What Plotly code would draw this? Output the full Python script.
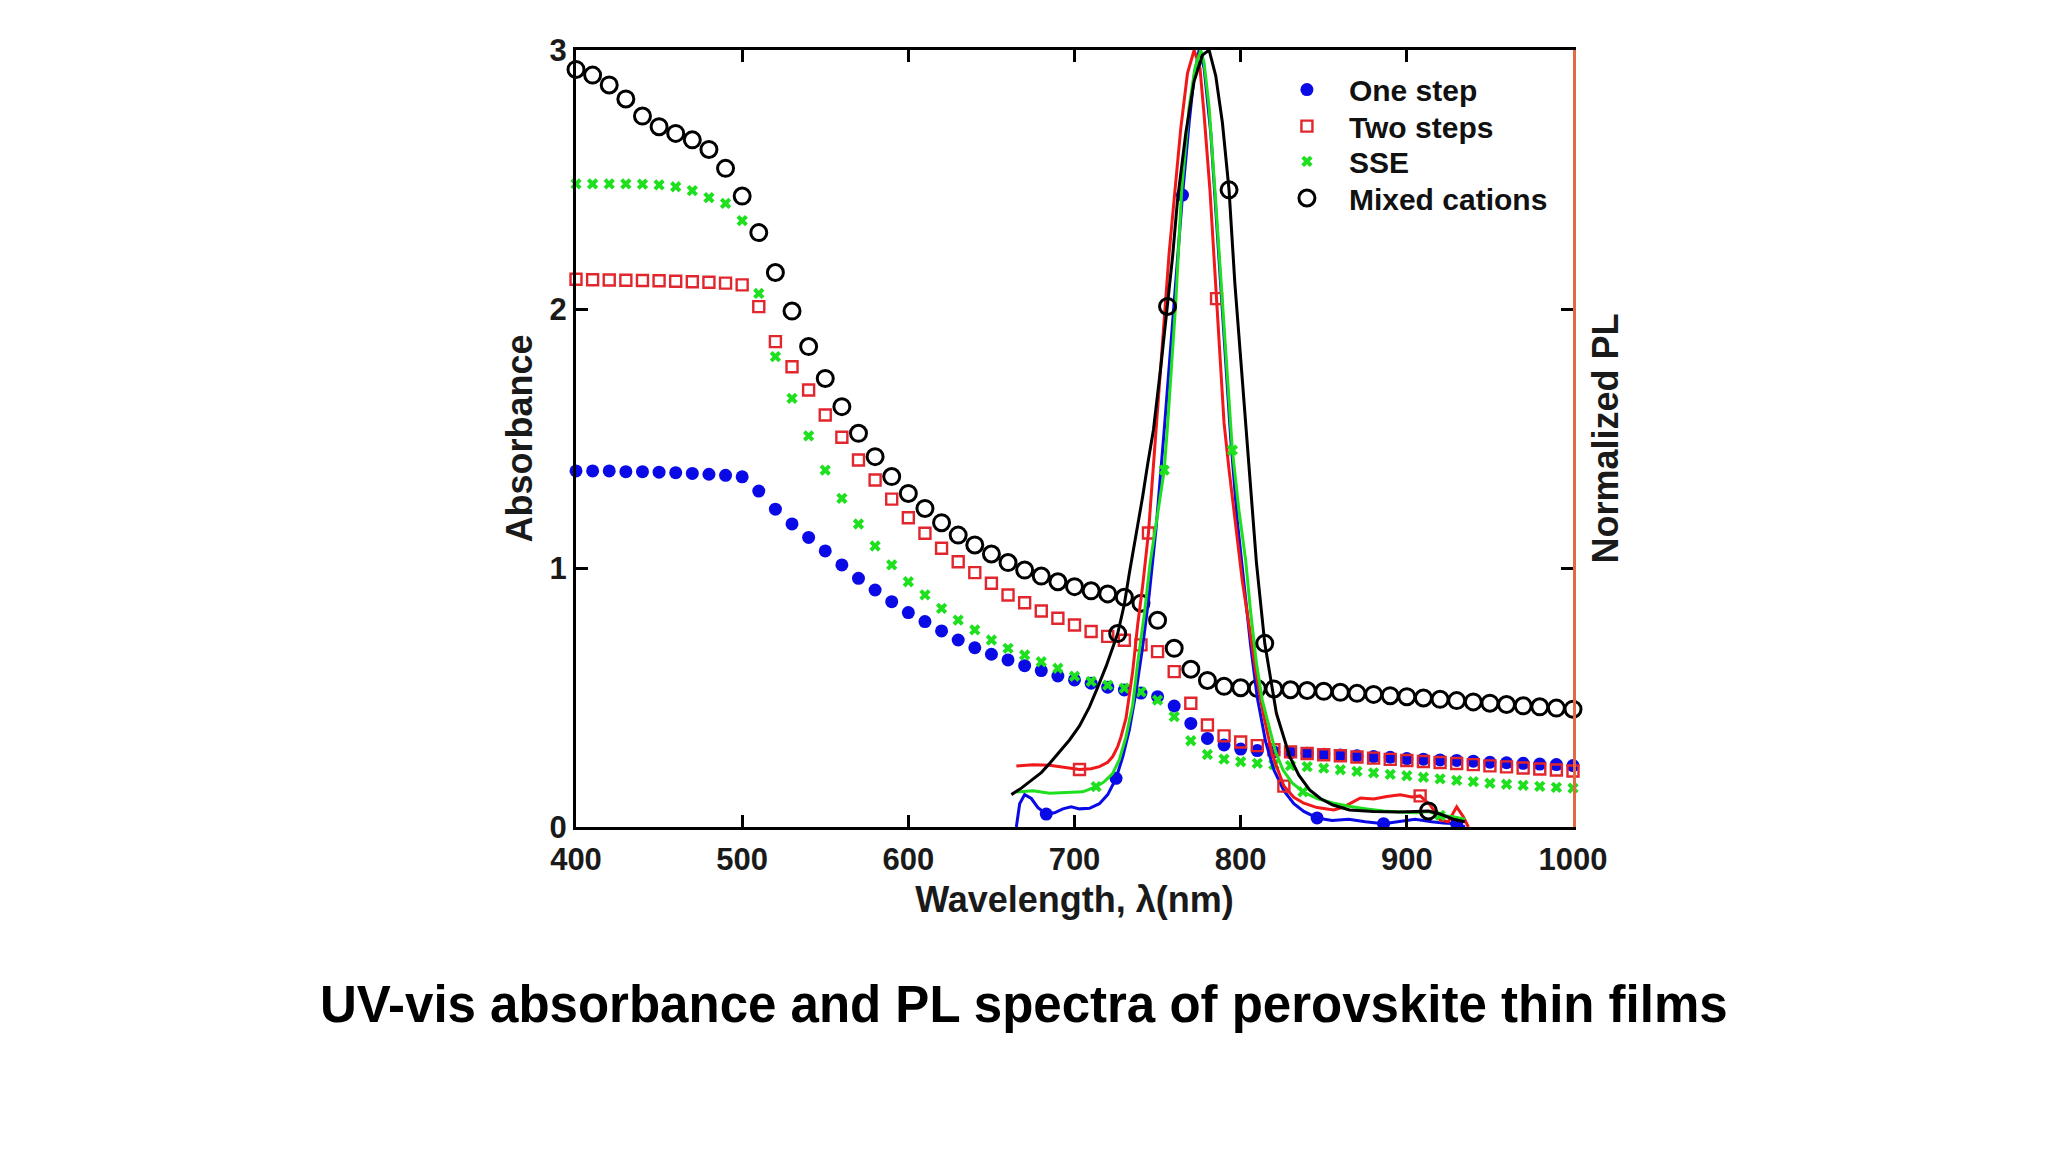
import plotly.graph_objects as go

# ---------------- data ----------------
wavelength = list(range(400, 1001, 10))

abs_one_step = [1.375, 1.375, 1.375, 1.372, 1.372, 1.370, 1.368, 1.365, 1.362, 1.358, 1.352,
                1.297, 1.227, 1.170, 1.118, 1.066, 1.012, 0.960, 0.915, 0.870, 0.828,
                0.793, 0.757, 0.722, 0.692, 0.667, 0.645, 0.623, 0.604, 0.583, 0.568,
                0.555, 0.540, 0.529, 0.517, 0.503, 0.467, 0.400, 0.342, 0.317, 0.301,
                0.295, 0.290, 0.287, 0.285, 0.281, 0.278, 0.275, 0.272, 0.269, 0.264,
                0.262, 0.259, 0.257, 0.254, 0.250, 0.248, 0.246, 0.243, 0.241, 0.237]

abs_two_steps = [2.115, 2.113, 2.112, 2.111, 2.110, 2.109, 2.107, 2.105, 2.103, 2.100, 2.093,
                 2.009, 1.874, 1.777, 1.687, 1.591, 1.505, 1.417, 1.340, 1.266, 1.194,
                 1.134, 1.076, 1.024, 0.982, 0.941, 0.896, 0.866, 0.834, 0.806, 0.780,
                 0.755, 0.736, 0.721, 0.703, 0.677, 0.600, 0.478, 0.394, 0.352, 0.328,
                 0.314, 0.298, 0.290, 0.284, 0.279, 0.275, 0.270, 0.266, 0.261, 0.257,
                 0.253, 0.249, 0.245, 0.241, 0.236, 0.232, 0.228, 0.224, 0.220, 0.216]

abs_sse = [2.483, 2.483, 2.483, 2.483, 2.482, 2.479, 2.472, 2.457, 2.430, 2.408, 2.341,
           2.060, 1.816, 1.655, 1.510, 1.378, 1.269, 1.170, 1.085, 1.012, 0.947,
           0.896, 0.844, 0.799, 0.761, 0.722, 0.690, 0.664, 0.638, 0.613, 0.582,
           0.562, 0.548, 0.536, 0.522, 0.490, 0.426, 0.333, 0.280, 0.262, 0.252,
           0.246, 0.241, 0.237, 0.233, 0.227, 0.221, 0.215, 0.209, 0.203, 0.198,
           0.192, 0.186, 0.180, 0.175, 0.169, 0.165, 0.161, 0.157, 0.153, 0.150]

abs_mixed = [2.925, 2.903, 2.865, 2.811, 2.745, 2.704, 2.678, 2.653, 2.616, 2.543, 2.436,
             2.295, 2.141, 1.992, 1.855, 1.732, 1.623, 1.520, 1.430, 1.353, 1.288,
             1.230, 1.175, 1.127, 1.089, 1.054, 1.021, 0.992, 0.969, 0.947, 0.928,
             0.912, 0.900, 0.887, 0.864, 0.798, 0.690, 0.609, 0.566, 0.543, 0.538,
             0.535, 0.533, 0.530, 0.527, 0.524, 0.520, 0.516, 0.512, 0.507, 0.503,
             0.498, 0.493, 0.488, 0.483, 0.478, 0.473, 0.468, 0.464, 0.459, 0.455]

# Photoluminescence spectra (normalized, plotted against right axis)
pl_one_step_wl = [665, 667, 670, 674, 678, 683, 688, 693, 698, 703, 709, 715, 720, 725, 729, 733,
                  737, 741, 745, 749, 754, 759, 762, 765, 769, 772, 775, 778, 782, 786, 790, 794,
                  798, 802, 806, 810, 815, 820, 826, 832, 838, 846, 855, 865, 875, 886, 895, 905,
                  915, 922, 930, 935]
pl_one_step = [0.0, 0.09, 0.125, 0.11, 0.075, 0.05, 0.055, 0.07, 0.078, 0.07, 0.072, 0.09, 0.125,
               0.188, 0.27, 0.375, 0.52, 0.696, 0.9, 1.147, 1.533, 1.95, 2.2, 2.44, 2.72, 2.9, 3.0,
               2.93, 2.68, 2.3, 1.9, 1.5, 1.18, 0.93, 0.7, 0.5, 0.33, 0.22, 0.14, 0.09, 0.06, 0.035,
               0.025, 0.03, 0.02, 0.013, 0.022, 0.03, 0.02, 0.015, 0.013, 0.0]
pl_one_step_mk_wl = [683, 725, 765, 846, 886, 930]
pl_one_step_mk = [0.05, 0.188, 2.44, 0.035, 0.013, 0.013]

pl_two_steps_wl = [665, 675, 685, 695, 703, 710, 715, 720, 723, 726, 728, 731, 733, 735, 738, 741,
                   744.5, 748, 751, 754.5, 757, 760.5, 764, 768, 772, 775.5, 778, 781.5, 785.5, 790,
                   793, 797.5, 801, 805.5, 809, 813.5, 819, 826, 832, 838, 846, 856, 861, 866, 872,
                   880, 888, 896, 903, 908, 914, 920, 925, 930, 934, 937]
pl_two_steps = [0.236, 0.24, 0.238, 0.228, 0.222, 0.225, 0.233, 0.25, 0.272, 0.31, 0.349, 0.42,
                0.503, 0.6, 0.78, 0.93, 1.135, 1.45, 1.72, 2.01, 2.22, 2.46, 2.7, 2.91, 3.0, 2.93,
                2.75, 2.46, 2.04, 1.56, 1.38, 1.15, 0.95, 0.76, 0.6, 0.44, 0.28, 0.158, 0.115, 0.092,
                0.075, 0.066, 0.075, 0.091, 0.112, 0.108, 0.118, 0.124, 0.116, 0.12, 0.085, 0.027,
                0.02, 0.078, 0.04, 0.0]
pl_two_steps_mk_wl = [703, 744.5, 785.5, 826, 908]
pl_two_steps_mk = [0.222, 1.135, 2.04, 0.158, 0.12]

pl_sse_wl = [665, 675, 685, 695, 705, 713, 718, 723, 727, 731, 735, 738, 742, 745.5, 750, 754, 756,
             758, 761, 764.5, 769, 772.5, 776, 778, 781, 784.5, 789, 792, 795, 799, 803, 806, 809.5,
             813, 817.5, 821, 825.5, 831, 837.5, 846, 856, 866, 876, 886, 896, 906, 913, 920, 928,
             935]
pl_sse = [0.135, 0.14, 0.13, 0.133, 0.136, 0.156, 0.175, 0.207, 0.26, 0.349, 0.47, 0.632, 0.82,
          1.018, 1.2, 1.378, 1.55, 1.75, 2.03, 2.46, 2.78, 2.93, 3.0, 2.95, 2.78, 2.46, 2.02, 1.72,
          1.455, 1.22, 1.03, 0.83, 0.632, 0.49, 0.375, 0.29, 0.22, 0.17, 0.136, 0.11, 0.092, 0.079,
          0.07, 0.062, 0.058, 0.055, 0.06, 0.045, 0.04, 0.03]
pl_sse_mk_wl = [713, 754, 795, 837.5, 920]
pl_sse_mk = [0.156, 1.378, 1.455, 0.136, 0.045]

pl_mixed_wl = [662, 668, 674, 680, 685, 691, 697, 703, 709, 714, 719, 726, 730, 733, 737, 741, 744,
               747.5, 752, 756, 759, 762, 767, 772, 777, 781, 785, 789, 793, 796.5, 800, 803.5,
               806.5, 809.5, 814.5, 821.5, 829.5, 835, 841.5, 848, 855.5, 865.5, 880, 895, 905, 913,
               920, 928, 935]
pl_mixed = [0.125, 0.15, 0.18, 0.21, 0.245, 0.29, 0.336, 0.39, 0.464, 0.54, 0.62, 0.747, 0.86,
            0.98, 1.12, 1.275, 1.4, 1.533, 1.78, 2.01, 2.2, 2.42, 2.68, 2.88, 2.98, 3.0, 2.9, 2.72,
            2.46, 2.1, 1.8, 1.52, 1.25, 1.02, 0.709, 0.439, 0.272, 0.2, 0.143, 0.11, 0.085, 0.066,
            0.06, 0.058, 0.06, 0.062, 0.05, 0.03, 0.02]
pl_mixed_mk_wl = [726, 756, 793, 814.5, 913]
pl_mixed_mk = [0.747, 2.01, 2.46, 0.709, 0.062]

x_ticks = [400, 500, 600, 700, 800, 900, 1000]
y_ticks = [0, 1, 2, 3]

# ---------------- styles ----------------
FONT = "Liberation Sans"
BLUE = "#0a0ae6"
RED = "#f01818"
RED_MK = "#e2262e"
GREEN = "#1ee01e"
BLACK = "#000000"
ORANGE = "#e06a42"

series = [
    ("One step", abs_one_step, pl_one_step_wl, pl_one_step, pl_one_step_mk_wl, pl_one_step_mk,
     dict(symbol="circle", size=13, color=BLUE, line=dict(width=0)), BLUE),
    ("Two steps", abs_two_steps, pl_two_steps_wl, pl_two_steps, pl_two_steps_mk_wl, pl_two_steps_mk,
     dict(symbol="square-open", size=11, color=RED_MK, line=dict(width=2.4, color=RED_MK)), RED),
    ("SSE", abs_sse, pl_sse_wl, pl_sse, pl_sse_mk_wl, pl_sse_mk,
     dict(symbol="x", size=10, color=GREEN, line=dict(width=0)), GREEN),
    ("Mixed cations", abs_mixed, pl_mixed_wl, pl_mixed, pl_mixed_mk_wl, pl_mixed_mk,
     dict(symbol="circle-open", size=16, color=BLACK, line=dict(width=3, color=BLACK)), BLACK),
]

legend_ids = ["legend", "legend2", "legend3", "legend4"]
legend_tops = [0.9825, 0.9355, 0.8902, 0.8430]

fig = go.Figure()

# absorbance (left axis)
for (name, a_vals, pwl, pv, mwl, mv, mk, lc), lg in zip(series, legend_ids):
    fig.add_trace(go.Scatter(x=wavelength, y=a_vals, mode="markers", name=name,
                             marker=mk, cliponaxis=False, xaxis="x", yaxis="y", legend=lg))

# PL (right axis)
for name, a_vals, pwl, pv, mwl, mv, mk, lc in series:
    fig.add_trace(go.Scatter(x=pwl, y=pv, mode="lines", line=dict(color=lc, width=3),
                             showlegend=False, xaxis="x", yaxis="y2"))
    fig.add_trace(go.Scatter(x=mwl, y=mv, mode="markers", marker=mk,
                             showlegend=False, xaxis="x", yaxis="y2"))

tick_font = dict(family=FONT, size=31, color="#1a1a1a", weight="bold")
title_font = dict(family=FONT, size=36, color="#1a1a1a", weight="bold")
legend_font = dict(family=FONT, size=30, color="#111111", weight="bold")

legend_layouts = {}
for lg, top in zip(legend_ids, legend_tops):
    legend_layouts[lg] = dict(x=0.691, y=top, xanchor="left", yanchor="top", font=legend_font,
                              bgcolor="rgba(255,255,255,0)", borderwidth=0, itemwidth=74)

fig.update_layout(
    width=2048, height=1152,
    margin=dict(l=576, r=475, t=50, b=325, autoexpand=False),
    paper_bgcolor="white", plot_bgcolor="white",
    showlegend=True,
    xaxis=dict(range=[400, 1000], tickvals=x_ticks, ticks="inside", ticklen=12, tickwidth=2.5,
               tickcolor="black", showline=True, linecolor="black", linewidth=3, mirror="ticks",
               showgrid=False, zeroline=False, tickfont=tick_font, ticklabelstandoff=3,
               title=dict(text="Wavelength, λ(nm)", font=title_font, standoff=11)),
    yaxis=dict(range=[0, 3], tickvals=y_ticks, ticks="inside", ticklen=12, tickwidth=2.5,
               tickcolor="black", showline=True, linecolor="black", linewidth=3,
               showgrid=False, zeroline=False, tickfont=tick_font,
               title=dict(text="Absorbance", font=title_font, standoff=6)),
    yaxis2=dict(range=[0, 3], tickvals=y_ticks, overlaying="y", side="right", ticks="inside",
                ticklen=12, tickwidth=2.5, tickcolor="black", showticklabels=False,
                showline=True, linecolor=ORANGE, linewidth=3, showgrid=False, zeroline=False,
                title=dict(text="Normalized PL", font=title_font, standoff=18)),
    annotations=[dict(text="UV-vis absorbance and PL spectra of perovskite thin films",
                      xref="paper", yref="paper", x=0.4493, y=-0.2285, xanchor="center",
                      yanchor="middle", showarrow=False,
                      font=dict(family=FONT, size=51, color="black", weight="bold"))],
    **legend_layouts,
)

fig.write_html("out.html")
